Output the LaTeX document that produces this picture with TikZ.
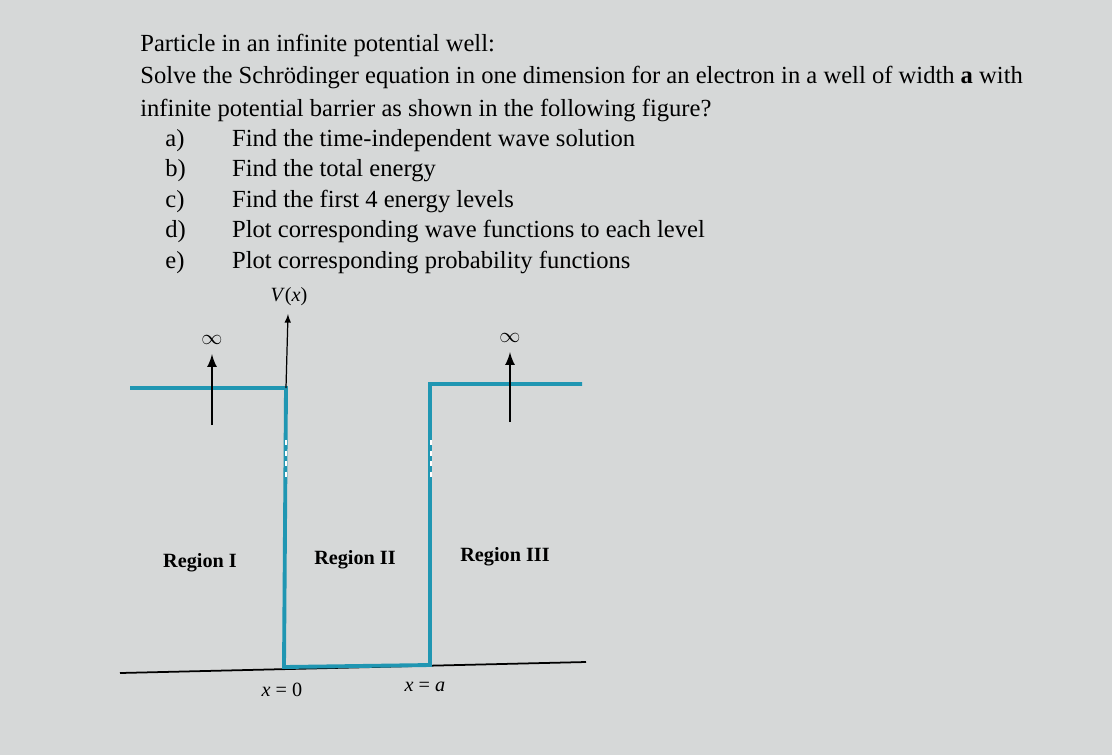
\documentclass[tikz,border=0pt]{standalone}
\usepackage{fontspec}
\setmainfont{Liberation Serif}
\definecolor{screen}{RGB}{214,216,216}
\definecolor{wall}{RGB}{32,150,178}
\begin{document}
\begin{tikzpicture}[x=0.02cm,y=-0.02cm,
	txt/.style={anchor=west,inner sep=0pt,font=\fontsize{14}{16}\selectfont},
	lbl/.style={inner sep=0pt,font=\fontsize{11.5}{13}\selectfont},
	pot/.style={draw=wall,line width=2.2pt},
	up/.style={-latex,line width=1.5pt}]
	\fill[screen] (0,0) rectangle (1112,755);
	\useasboundingbox (0,0) rectangle (1112,755);
	% question text
	\node[txt] (t1) at (140,45) {Particle in an infinite potential well:};
	\node[txt] (t2) at (140,77) {Solve the Schrödinger equation in one dimension for an electron in a well of width \textbf{a} with};
	\node[txt] (t3) at (140,110) {infinite potential barrier as shown in the following figure?};
	\node[txt] (qa) at (165,141) {\makebox[38pt][l]{a)}Find the time-independent wave solution};
	\node[txt] (qb) at (165,171) {\makebox[38pt][l]{b)}Find the total energy};
	\node[txt] (qc) at (165,201) {\makebox[38pt][l]{c)}Find the first 4 energy levels};
	\node[txt] (qd) at (165,231) {\makebox[38pt][l]{d)}Plot corresponding wave functions to each level};
	\node[txt] (qe) at (165,262) {\makebox[38pt][l]{e)}Plot corresponding probability functions};
	% well
	\coordinate (l0) at (130,388);
	\coordinate (l1) at (286,388);
	\coordinate (b0) at (284,667);
	\coordinate (b1) at (430,665);
	\coordinate (r1) at (430,384);
	\coordinate (r0) at (582,384);
	\coordinate (g0) at (120,673);
	\coordinate (g1) at (586,662);
	\draw[line width=1pt] (g0) -- (g1);
	\draw[pot] (l0) -- (l1) -- (b0) -- (b1) -- (r1) -- (r0);
	\draw[white,line width=0.8pt,dashed] (286,440) -- (286,480);
	\draw[white,line width=0.8pt,dashed] (431,440) -- (431,480);
	% axis and infinities
	\node[lbl] (vx) at (289,297) {\textit{V}(\textit{x})};
	\draw[-latex,line width=0.7pt] (l1) -- (288,314);
	\node[lbl] (infl) at (212,340) {$\infty$};
	\node[lbl] (infr) at (510,338) {$\infty$};
	\coordinate (al) at (212,425);
	\coordinate (ar) at (510,422);
	\draw[up] (al) -- (212,354);
	\draw[up] (ar) -- (510,352);
	% labels
	\node[lbl] (reg1) at (200,563) {\textbf{Region I}};
	\node[lbl] (reg2) at (355,560) {\textbf{Region II}};
	\node[lbl] (reg3) at (505,557) {\textbf{Region III}};
	\node[lbl] (x0) at (282,690) {\textit{x} = 0};
	\node[lbl] (xa) at (425,687) {\textit{x} = \textit{a}};
\end{tikzpicture}
\end{document}
